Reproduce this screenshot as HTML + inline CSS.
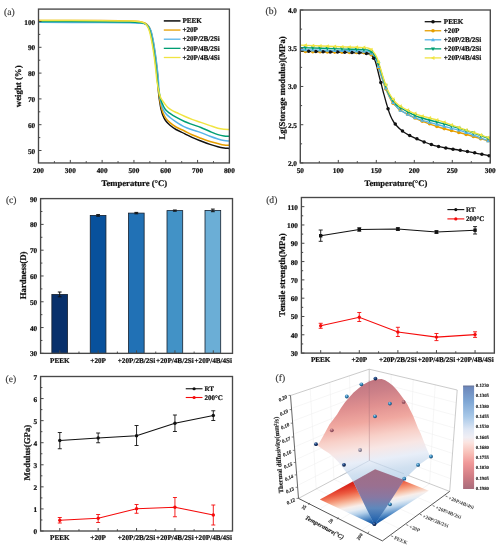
<!DOCTYPE html><html><head><meta charset="utf-8"><style>html,body{margin:0;padding:0;background:#fff;}svg{display:block;text-rendering:geometricPrecision;filter:blur(0.3px);}</style></head><body>
<svg width="501" height="550" viewBox="0 0 501 550" font-family='"Liberation Serif", serif'>
<rect width="501" height="550" fill="#fff"/>
<text x="9.3" y="12.1" font-size="9.6" text-anchor="middle" font-weight="normal" fill="#333" dominant-baseline="central" stroke="#333" stroke-width="0.15">(a)</text>
<g fill="none" stroke-linejoin="round" stroke-width="1.5">
<path d="M38.50,21.50 C48.75,21.53 84.75,21.62 100.00,21.70 C115.25,21.78 123.33,21.85 130.00,22.00 C136.68,22.15 137.54,22.32 140.05,22.60 C142.56,22.88 143.67,23.01 145.07,23.65 C146.47,24.30 147.53,25.22 148.45,26.49 C149.38,27.76 149.96,29.30 150.60,31.30 C151.24,33.30 151.73,35.72 152.30,38.50 C152.87,41.28 153.45,44.58 154.00,48.00 C154.55,51.42 155.12,55.33 155.60,59.00 C156.08,62.67 156.52,66.50 156.90,70.00 C157.28,73.50 157.62,76.17 157.90,80.00 C158.18,83.83 158.27,89.17 158.60,93.00 C158.93,96.83 159.50,100.33 159.90,103.00 C160.30,105.67 160.53,107.00 161.00,109.00 C161.47,111.00 161.92,113.03 162.70,115.00 C163.48,116.97 164.48,119.10 165.70,120.80 C166.92,122.50 168.28,123.75 170.00,125.20 C171.72,126.65 173.58,128.10 176.00,129.50 C178.42,130.90 181.83,132.28 184.50,133.60 C187.17,134.92 189.27,136.17 192.00,137.40 C194.73,138.63 197.90,139.83 200.90,141.00 C203.90,142.17 207.17,143.43 210.00,144.40 C212.83,145.37 215.57,146.20 217.90,146.80 C220.23,147.40 222.15,147.73 224.00,148.00 C225.85,148.27 228.17,148.33 229.00,148.40" stroke="#111111"/>
<path d="M38.50,20.40 C48.75,20.43 84.75,20.52 100.00,20.60 C115.25,20.68 123.32,20.72 130.00,20.90 C136.68,21.08 137.56,21.30 140.10,21.68 C142.64,22.06 143.81,22.41 145.25,23.19 C146.68,23.96 147.77,24.97 148.71,26.32 C149.65,27.68 150.25,29.27 150.90,31.30 C151.55,33.33 152.03,35.72 152.60,38.50 C153.17,41.28 153.75,44.58 154.30,48.00 C154.85,51.42 155.42,55.33 155.90,59.00 C156.38,62.67 156.82,66.50 157.20,70.00 C157.58,73.50 157.98,76.50 158.20,80.00 C158.42,83.50 158.20,87.50 158.50,91.00 C158.80,94.50 159.52,98.25 160.00,101.00 C160.48,103.75 160.87,105.47 161.40,107.50 C161.93,109.53 162.43,111.38 163.20,113.20 C163.97,115.02 164.87,116.83 166.00,118.40 C167.13,119.97 168.33,121.17 170.00,122.60 C171.67,124.03 173.58,125.60 176.00,127.00 C178.42,128.40 181.83,129.70 184.50,131.00 C187.17,132.30 189.27,133.58 192.00,134.80 C194.73,136.02 197.90,137.18 200.90,138.30 C203.90,139.42 207.17,140.62 210.00,141.50 C212.83,142.38 215.57,143.02 217.90,143.60 C220.23,144.18 222.15,144.72 224.00,145.00 C225.85,145.28 228.17,145.25 229.00,145.30" stroke="#e69f00"/>
<path d="M38.50,22.30 C48.75,22.33 84.75,22.42 100.00,22.50 C115.25,22.58 123.31,22.67 130.00,22.80 C136.69,22.93 137.57,23.07 140.13,23.27 C142.69,23.47 143.90,23.44 145.36,23.99 C146.82,24.55 147.92,25.39 148.88,26.61 C149.84,27.83 150.45,29.32 151.10,31.30 C151.75,33.28 152.23,35.72 152.80,38.50 C153.37,41.28 153.95,44.58 154.50,48.00 C155.05,51.42 155.62,55.33 156.10,59.00 C156.58,62.67 157.02,66.50 157.40,70.00 C157.78,73.50 158.15,76.83 158.40,80.00 C158.65,83.17 158.57,85.83 158.90,89.00 C159.23,92.17 159.82,95.92 160.40,99.00 C160.98,102.08 161.55,105.13 162.40,107.50 C163.25,109.87 164.23,111.53 165.50,113.20 C166.77,114.87 168.25,116.07 170.00,117.50 C171.75,118.93 173.58,120.23 176.00,121.80 C178.42,123.37 181.83,125.57 184.50,126.90 C187.17,128.23 189.27,128.85 192.00,129.80 C194.73,130.75 197.90,131.52 200.90,132.60 C203.90,133.68 207.17,135.23 210.00,136.30 C212.83,137.37 215.57,138.28 217.90,139.00 C220.23,139.72 222.15,140.25 224.00,140.60 C225.85,140.95 228.17,141.02 229.00,141.10" stroke="#56b4e9"/>
<path d="M38.50,21.50 C48.75,21.53 84.75,21.62 100.00,21.70 C115.25,21.78 123.34,21.85 130.00,22.00 C136.66,22.15 137.50,22.32 139.95,22.60 C142.40,22.88 143.39,23.01 144.73,23.65 C146.06,24.30 147.07,25.22 147.94,26.49 C148.82,27.76 149.37,29.30 150.00,31.30 C150.63,33.30 151.13,35.72 151.70,38.50 C152.27,41.28 152.85,44.58 153.40,48.00 C153.95,51.42 154.52,55.33 155.00,59.00 C155.48,62.67 155.92,66.50 156.30,70.00 C156.68,73.50 156.98,77.17 157.30,80.00 C157.62,82.83 157.78,84.33 158.20,87.00 C158.62,89.67 159.17,93.33 159.80,96.00 C160.43,98.67 161.07,100.75 162.00,103.00 C162.93,105.25 164.07,107.77 165.40,109.50 C166.73,111.23 168.23,112.12 170.00,113.40 C171.77,114.68 173.58,115.85 176.00,117.20 C178.42,118.55 181.83,120.30 184.50,121.50 C187.17,122.70 189.27,123.40 192.00,124.40 C194.73,125.40 197.90,126.32 200.90,127.50 C203.90,128.68 207.17,130.32 210.00,131.50 C212.83,132.68 215.57,133.85 217.90,134.60 C220.23,135.35 222.15,135.72 224.00,136.00 C225.85,136.28 228.17,136.25 229.00,136.30" stroke="#009e73"/>
<path d="M38.50,20.50 C48.75,20.53 84.75,20.62 100.00,20.70 C115.25,20.78 123.36,20.82 130.00,21.00 C136.64,21.18 137.46,21.40 139.87,21.77 C142.27,22.14 143.16,22.47 144.44,23.23 C145.72,23.99 146.68,25.00 147.52,26.34 C148.36,27.68 148.89,29.27 149.50,31.30 C150.11,33.33 150.63,35.72 151.20,38.50 C151.77,41.28 152.35,44.58 152.90,48.00 C153.45,51.42 154.02,55.33 154.50,59.00 C154.98,62.67 155.42,66.50 155.80,70.00 C156.18,73.50 156.50,77.50 156.80,80.00 C157.10,82.50 157.22,82.92 157.60,85.00 C157.98,87.08 158.57,90.33 159.10,92.50 C159.63,94.67 160.28,96.72 160.80,98.00 C161.32,99.28 161.58,99.28 162.20,100.20 C162.82,101.12 163.60,102.33 164.50,103.50 C165.40,104.67 166.35,106.05 167.60,107.20 C168.85,108.35 170.43,109.47 172.00,110.40 C173.57,111.33 174.92,111.82 177.00,112.80 C179.08,113.78 182.00,115.20 184.50,116.30 C187.00,117.40 189.27,118.38 192.00,119.40 C194.73,120.42 197.90,121.37 200.90,122.40 C203.90,123.43 207.17,124.63 210.00,125.60 C212.83,126.57 215.57,127.60 217.90,128.20 C220.23,128.80 222.15,129.00 224.00,129.20 C225.85,129.40 228.17,129.37 229.00,129.40" stroke="#f0e442"/>
</g>
<rect x="38.5" y="9.1" width="190.9" height="153.85" fill="none" stroke="#484848" stroke-width="1.35"/>
<line x1="38.5" y1="150.5" x2="41.5" y2="150.5" stroke="#484848" stroke-width="1"/>
<text x="35.2" y="151.0" font-size="7.3" text-anchor="end" font-weight="bold" fill="#111" dominant-baseline="central" stroke="#111" stroke-width="0.22">50</text>
<line x1="38.5" y1="124.69999999999999" x2="41.5" y2="124.69999999999999" stroke="#484848" stroke-width="1"/>
<text x="35.2" y="125.2" font-size="7.3" text-anchor="end" font-weight="bold" fill="#111" dominant-baseline="central" stroke="#111" stroke-width="0.22">60</text>
<line x1="38.5" y1="98.89999999999999" x2="41.5" y2="98.89999999999999" stroke="#484848" stroke-width="1"/>
<text x="35.2" y="99.4" font-size="7.3" text-anchor="end" font-weight="bold" fill="#111" dominant-baseline="central" stroke="#111" stroke-width="0.22">70</text>
<line x1="38.5" y1="73.1" x2="41.5" y2="73.1" stroke="#484848" stroke-width="1"/>
<text x="35.2" y="73.6" font-size="7.3" text-anchor="end" font-weight="bold" fill="#111" dominant-baseline="central" stroke="#111" stroke-width="0.22">80</text>
<line x1="38.5" y1="47.3" x2="41.5" y2="47.3" stroke="#484848" stroke-width="1"/>
<text x="35.2" y="47.8" font-size="7.3" text-anchor="end" font-weight="bold" fill="#111" dominant-baseline="central" stroke="#111" stroke-width="0.22">90</text>
<line x1="38.5" y1="21.499999999999993" x2="41.5" y2="21.499999999999993" stroke="#484848" stroke-width="1"/>
<text x="35.2" y="22.0" font-size="7.3" text-anchor="end" font-weight="bold" fill="#111" dominant-baseline="central" stroke="#111" stroke-width="0.22">100</text>
<line x1="38.5" y1="137.6" x2="40.3" y2="137.6" stroke="#484848" stroke-width="1"/>
<line x1="38.5" y1="111.8" x2="40.3" y2="111.8" stroke="#484848" stroke-width="1"/>
<line x1="38.5" y1="86.0" x2="40.3" y2="86.0" stroke="#484848" stroke-width="1"/>
<line x1="38.5" y1="60.199999999999996" x2="40.3" y2="60.199999999999996" stroke="#484848" stroke-width="1"/>
<line x1="38.5" y1="34.39999999999999" x2="40.3" y2="34.39999999999999" stroke="#484848" stroke-width="1"/>
<line x1="38.5" y1="162.95" x2="38.5" y2="159.95" stroke="#484848" stroke-width="1"/>
<text x="38.5" y="170.1" font-size="7.3" text-anchor="middle" font-weight="bold" fill="#111" dominant-baseline="central" stroke="#111" stroke-width="0.22">200</text>
<line x1="70.31666666666666" y1="162.95" x2="70.31666666666666" y2="159.95" stroke="#484848" stroke-width="1"/>
<text x="70.31666666666666" y="170.1" font-size="7.3" text-anchor="middle" font-weight="bold" fill="#111" dominant-baseline="central" stroke="#111" stroke-width="0.22">300</text>
<line x1="102.13333333333333" y1="162.95" x2="102.13333333333333" y2="159.95" stroke="#484848" stroke-width="1"/>
<text x="102.13333333333333" y="170.1" font-size="7.3" text-anchor="middle" font-weight="bold" fill="#111" dominant-baseline="central" stroke="#111" stroke-width="0.22">400</text>
<line x1="133.95" y1="162.95" x2="133.95" y2="159.95" stroke="#484848" stroke-width="1"/>
<text x="133.95" y="170.1" font-size="7.3" text-anchor="middle" font-weight="bold" fill="#111" dominant-baseline="central" stroke="#111" stroke-width="0.22">500</text>
<line x1="165.76666666666665" y1="162.95" x2="165.76666666666665" y2="159.95" stroke="#484848" stroke-width="1"/>
<text x="165.76666666666665" y="170.1" font-size="7.3" text-anchor="middle" font-weight="bold" fill="#111" dominant-baseline="central" stroke="#111" stroke-width="0.22">600</text>
<line x1="197.58333333333334" y1="162.95" x2="197.58333333333334" y2="159.95" stroke="#484848" stroke-width="1"/>
<text x="197.58333333333334" y="170.1" font-size="7.3" text-anchor="middle" font-weight="bold" fill="#111" dominant-baseline="central" stroke="#111" stroke-width="0.22">700</text>
<line x1="229.4" y1="162.95" x2="229.4" y2="159.95" stroke="#484848" stroke-width="1"/>
<text x="229.4" y="170.1" font-size="7.3" text-anchor="middle" font-weight="bold" fill="#111" dominant-baseline="central" stroke="#111" stroke-width="0.22">800</text>
<line x1="54.40833333333333" y1="162.95" x2="54.40833333333333" y2="161.14999999999998" stroke="#484848" stroke-width="1"/>
<line x1="86.225" y1="162.95" x2="86.225" y2="161.14999999999998" stroke="#484848" stroke-width="1"/>
<line x1="118.04166666666667" y1="162.95" x2="118.04166666666667" y2="161.14999999999998" stroke="#484848" stroke-width="1"/>
<line x1="149.85833333333335" y1="162.95" x2="149.85833333333335" y2="161.14999999999998" stroke="#484848" stroke-width="1"/>
<line x1="181.675" y1="162.95" x2="181.675" y2="161.14999999999998" stroke="#484848" stroke-width="1"/>
<line x1="213.49166666666667" y1="162.95" x2="213.49166666666667" y2="161.14999999999998" stroke="#484848" stroke-width="1"/>
<text x="134.3" y="182.8" font-size="8.67" text-anchor="middle" font-weight="bold" fill="#111" dominant-baseline="central" stroke="#111" stroke-width="0.22">Temperature (°C)</text>
<text x="18.4" y="86.3" font-size="8.8" text-anchor="middle" font-weight="bold" fill="#111" dominant-baseline="central" stroke="#111" stroke-width="0.22" transform="rotate(-90 18.4 86.3)">weight (%)</text>
<line x1="163.8" y1="20.9" x2="180.5" y2="20.9" stroke="#333333" stroke-width="1.8"/>
<text x="182.4" y="21.1" font-size="7.15" text-anchor="start" font-weight="bold" fill="#111" dominant-baseline="central" stroke="#111" stroke-width="0.22">PEEK</text>
<line x1="163.8" y1="30.049999999999997" x2="180.5" y2="30.049999999999997" stroke="#e69f00" stroke-width="1.3"/>
<text x="182.4" y="30.25" font-size="7.15" text-anchor="start" font-weight="bold" fill="#111" dominant-baseline="central" stroke="#111" stroke-width="0.22">+20P</text>
<line x1="163.8" y1="39.2" x2="180.5" y2="39.2" stroke="#56b4e9" stroke-width="1.3"/>
<text x="182.4" y="39.4" font-size="7.15" text-anchor="start" font-weight="bold" fill="#111" dominant-baseline="central" stroke="#111" stroke-width="0.22">+20P/2B/2Si</text>
<line x1="163.8" y1="48.35" x2="180.5" y2="48.35" stroke="#009e73" stroke-width="1.3"/>
<text x="182.4" y="48.55" font-size="7.15" text-anchor="start" font-weight="bold" fill="#111" dominant-baseline="central" stroke="#111" stroke-width="0.22">+20P/4B/2Si</text>
<line x1="163.8" y1="57.5" x2="180.5" y2="57.5" stroke="#f0e442" stroke-width="1.3"/>
<text x="182.4" y="57.7" font-size="7.15" text-anchor="start" font-weight="bold" fill="#111" dominant-baseline="central" stroke="#111" stroke-width="0.22">+20P/4B/4Si</text>
<text x="271.2" y="11.9" font-size="9.6" text-anchor="middle" font-weight="normal" fill="#333" dominant-baseline="central" stroke="#333" stroke-width="0.15">(b)</text>
<g fill="none" stroke-linejoin="round">
<path d="M300.30,51.40 C306.92,51.53 329.38,52.00 340.00,52.20 C350.62,52.40 359.17,52.43 364.00,52.60 C368.83,52.77 367.50,52.67 369.00,53.20 C370.50,53.73 371.67,54.17 373.00,55.80 C374.33,57.43 375.67,59.80 377.00,63.00 C378.33,66.20 379.67,71.00 381.00,75.00 C382.33,79.00 383.75,83.67 385.00,87.00 C386.25,90.33 387.25,92.42 388.50,95.00 C389.75,97.58 391.20,100.58 392.50,102.50 C393.80,104.42 395.05,105.25 396.30,106.50 C397.55,107.75 397.72,108.48 400.00,110.00 C402.28,111.52 406.67,113.87 410.00,115.60 C413.33,117.33 415.00,118.42 420.00,120.40 C425.00,122.38 433.33,125.43 440.00,127.50 C446.67,129.57 454.17,131.22 460.00,132.80 C465.83,134.38 470.00,135.57 475.00,137.00 C480.00,138.43 487.50,140.67 490.00,141.40" stroke="#e69f00" stroke-width="1.4"/>
<path d="M300.30,51.00 C306.92,51.20 329.72,51.90 340.00,52.20 C350.28,52.50 357.33,52.57 362.00,52.80 C366.67,53.03 366.42,53.18 368.00,53.60 C369.58,54.02 370.40,54.32 371.50,55.30 C372.60,56.28 373.70,57.55 374.60,59.50 C375.50,61.45 376.17,64.33 376.90,67.00 C377.63,69.67 378.30,72.75 379.00,75.50 C379.70,78.25 380.43,80.92 381.10,83.50 C381.77,86.08 382.42,88.78 383.00,91.00 C383.58,93.22 384.00,94.63 384.60,96.80 C385.20,98.97 385.82,101.35 386.60,104.00 C387.38,106.65 388.40,110.20 389.30,112.70 C390.20,115.20 390.97,117.03 392.00,119.00 C393.03,120.97 393.67,122.40 395.50,124.50 C397.33,126.60 400.57,129.72 403.00,131.60 C405.43,133.48 407.73,134.57 410.10,135.80 C412.47,137.03 414.83,137.97 417.20,139.00 C419.57,140.03 421.93,141.07 424.30,142.00 C426.67,142.93 429.12,143.87 431.40,144.60 C433.68,145.33 435.60,145.83 438.00,146.40 C440.40,146.97 442.15,147.35 445.80,148.00 C449.45,148.65 455.13,149.50 459.90,150.30 C464.67,151.10 469.47,151.88 474.40,152.80 C479.33,153.72 486.98,155.30 489.50,155.80" stroke="#111" stroke-width="1.3"/>
<path d="M300.30,49.70 C306.92,49.85 329.38,50.35 340.00,50.60 C350.62,50.85 359.17,50.97 364.00,51.20 C368.83,51.43 367.50,51.45 369.00,52.00 C370.50,52.55 371.63,52.75 373.00,54.50 C374.37,56.25 375.82,58.98 377.20,62.50 C378.58,66.02 379.90,71.42 381.30,75.60 C382.70,79.78 384.32,84.28 385.60,87.60 C386.88,90.92 387.77,93.02 389.00,95.50 C390.23,97.98 391.75,100.67 393.00,102.50 C394.25,104.33 395.33,105.22 396.50,106.50 C397.67,107.78 397.75,108.70 400.00,110.20 C402.25,111.70 406.67,113.93 410.00,115.50 C413.33,117.07 415.00,117.97 420.00,119.60 C425.00,121.23 433.33,123.50 440.00,125.30 C446.67,127.10 454.17,128.68 460.00,130.40 C465.83,132.12 470.00,133.73 475.00,135.60 C480.00,137.47 487.50,140.60 490.00,141.60" stroke="#56b4e9" stroke-width="1.4"/>
<path d="M300.30,47.60 C306.92,47.82 329.38,48.57 340.00,48.90 C350.62,49.23 359.17,49.35 364.00,49.60 C368.83,49.85 367.53,49.87 369.00,50.40 C370.47,50.93 371.43,51.20 372.80,52.80 C374.17,54.40 375.88,57.05 377.20,60.00 C378.52,62.95 379.48,66.75 380.70,70.50 C381.92,74.25 383.23,78.83 384.50,82.50 C385.77,86.17 386.95,89.58 388.30,92.50 C389.65,95.42 391.32,98.00 392.60,100.00 C393.88,102.00 394.77,103.25 396.00,104.50 C397.23,105.75 397.67,106.08 400.00,107.50 C402.33,108.92 406.67,111.33 410.00,113.00 C413.33,114.67 415.00,115.85 420.00,117.50 C425.00,119.15 433.33,121.05 440.00,122.90 C446.67,124.75 454.17,126.83 460.00,128.60 C465.83,130.37 470.00,131.77 475.00,133.50 C480.00,135.23 487.50,138.08 490.00,139.00" stroke="#009e73" stroke-width="1.4"/>
<path d="M300.30,45.10 C306.92,45.38 329.38,46.38 340.00,46.80 C350.62,47.22 359.17,47.33 364.00,47.60 C368.83,47.87 367.58,47.90 369.00,48.40 C370.42,48.90 371.18,49.08 372.50,50.60 C373.82,52.12 375.62,54.68 376.90,57.50 C378.18,60.32 379.02,63.75 380.20,67.50 C381.38,71.25 382.73,76.17 384.00,80.00 C385.27,83.83 386.43,87.47 387.80,90.50 C389.17,93.53 390.83,96.15 392.20,98.20 C393.57,100.25 394.70,101.50 396.00,102.80 C397.30,104.10 397.67,104.55 400.00,106.00 C402.33,107.45 406.67,109.92 410.00,111.50 C413.33,113.08 415.00,113.95 420.00,115.50 C425.00,117.05 433.33,118.72 440.00,120.80 C446.67,122.88 454.17,125.97 460.00,128.00 C465.83,130.03 470.00,131.28 475.00,133.00 C480.00,134.72 487.50,137.42 490.00,138.30" stroke="#f0e442" stroke-width="1.4"/>
</g>
<circle cx="305.5" cy="51.50478589420655" r="1.8" fill="#e69f00"/>
<circle cx="312.8" cy="51.65188916876574" r="1.8" fill="#e69f00"/>
<circle cx="320.1" cy="51.79899244332494" r="1.8" fill="#e69f00"/>
<circle cx="327.4" cy="51.946095717884134" r="1.8" fill="#e69f00"/>
<circle cx="334.7" cy="52.09319899244333" r="1.8" fill="#e69f00"/>
<circle cx="342.0" cy="52.233333333333334" r="1.8" fill="#e69f00"/>
<circle cx="349.3" cy="52.355000000000004" r="1.8" fill="#e69f00"/>
<circle cx="356.6" cy="52.47666666666667" r="1.8" fill="#e69f00"/>
<circle cx="363.9" cy="52.598333333333336" r="1.8" fill="#e69f00"/>
<circle cx="371.2" cy="54.629999999999995" r="1.8" fill="#e69f00"/>
<circle cx="378.5" cy="67.5" r="1.8" fill="#e69f00"/>
<circle cx="385.8" cy="88.82857142857145" r="1.8" fill="#e69f00"/>
<circle cx="393.1" cy="103.13157894736844" r="1.8" fill="#e69f00"/>
<circle cx="400.4" cy="110.22399999999999" r="1.8" fill="#e69f00"/>
<circle cx="407.7" cy="114.31199999999998" r="1.8" fill="#e69f00"/>
<circle cx="415.0" cy="118.0" r="1.8" fill="#e69f00"/>
<circle cx="422.3" cy="121.21650000000001" r="1.8" fill="#e69f00"/>
<circle cx="429.6" cy="123.808" r="1.8" fill="#e69f00"/>
<circle cx="436.9" cy="126.39949999999999" r="1.8" fill="#e69f00"/>
<circle cx="444.2" cy="128.613" r="1.8" fill="#e69f00"/>
<circle cx="451.5" cy="130.5475" r="1.8" fill="#e69f00"/>
<circle cx="458.79999999999995" cy="132.482" r="1.8" fill="#e69f00"/>
<circle cx="466.1" cy="134.508" r="1.8" fill="#e69f00"/>
<circle cx="473.4" cy="136.552" r="1.8" fill="#e69f00"/>
<circle cx="480.7" cy="138.672" r="1.8" fill="#e69f00"/>
<circle cx="488.0" cy="140.81333333333333" r="1.8" fill="#e69f00"/>
<circle cx="308.62" cy="51.251486146095715" r="1.75" fill="#111"/>
<circle cx="315.84" cy="51.46972292191436" r="1.75" fill="#111"/>
<circle cx="323.06" cy="51.687959697733" r="1.75" fill="#111"/>
<circle cx="330.28" cy="51.90619647355164" r="1.75" fill="#111"/>
<circle cx="337.5" cy="52.12443324937028" r="1.75" fill="#111"/>
<circle cx="344.71999999999997" cy="52.32872727272727" r="1.75" fill="#111"/>
<circle cx="351.94" cy="52.525636363636366" r="1.75" fill="#111"/>
<circle cx="359.15999999999997" cy="52.722545454545454" r="1.75" fill="#111"/>
<circle cx="366.38" cy="53.384" r="1.75" fill="#111"/>
<circle cx="373.59999999999997" cy="58.14516129032251" r="1.75" fill="#111"/>
<circle cx="380.82" cy="82.43333333333324" r="1.75" fill="#111"/>
<circle cx="388.03999999999996" cy="108.63999999999983" r="1.75" fill="#111"/>
<circle cx="395.26" cy="124.12285714285713" r="1.75" fill="#111"/>
<circle cx="402.47999999999996" cy="131.1077333333333" r="1.75" fill="#111"/>
<circle cx="409.7" cy="135.56338028169014" r="1.75" fill="#111"/>
<circle cx="416.91999999999996" cy="138.8738028169014" r="1.75" fill="#111"/>
<circle cx="424.14" cy="141.93239436619717" r="1.75" fill="#111"/>
<circle cx="431.36" cy="144.58535211267608" r="1.75" fill="#111"/>
<circle cx="438.58" cy="146.51897435897436" r="1.75" fill="#111"/>
<circle cx="445.79999999999995" cy="148.0" r="1.75" fill="#111"/>
<circle cx="453.02" cy="149.1777304964539" r="1.75" fill="#111"/>
<circle cx="460.24" cy="150.3586206896552" r="1.75" fill="#111"/>
<circle cx="467.46" cy="151.6034482758621" r="1.75" fill="#111"/>
<circle cx="474.67999999999995" cy="152.85562913907285" r="1.75" fill="#111"/>
<circle cx="481.9" cy="154.29006622516556" r="1.75" fill="#111"/>
<circle cx="489.12" cy="155.7245033112583" r="1.75" fill="#111"/>
<path d="M305.5,47.65788413098237 L307.48,51.25788413098237 L303.52,51.25788413098237Z" fill="#56b4e9"/>
<path d="M312.8,47.823375314861465 L314.78000000000003,51.42337531486146 L310.82,51.42337531486146Z" fill="#56b4e9"/>
<path d="M320.1,47.98886649874056 L322.08000000000004,51.58886649874056 L318.12,51.58886649874056Z" fill="#56b4e9"/>
<path d="M327.4,48.15435768261965 L329.38,51.75435768261965 L325.41999999999996,51.75435768261965Z" fill="#56b4e9"/>
<path d="M334.7,48.319848866498745 L336.68,51.91984886649874 L332.71999999999997,51.91984886649874Z" fill="#56b4e9"/>
<path d="M342.0,48.489999999999995 L343.98,52.089999999999996 L340.02,52.089999999999996Z" fill="#56b4e9"/>
<path d="M349.3,48.6725 L351.28000000000003,52.2725 L347.32,52.2725Z" fill="#56b4e9"/>
<path d="M356.6,48.855000000000004 L358.58000000000004,52.455 L354.62,52.455Z" fill="#56b4e9"/>
<path d="M363.9,49.03750000000001 L365.88,52.6375 L361.91999999999996,52.6375Z" fill="#56b4e9"/>
<path d="M371.2,51.21499999999999 L373.18,54.81499999999999 L369.21999999999997,54.81499999999999Z" fill="#56b4e9"/>
<path d="M378.5,64.49365853658539 L380.48,68.09365853658538 L376.52,68.09365853658538Z" fill="#56b4e9"/>
<path d="M385.8,85.90470588235291 L387.78000000000003,89.50470588235291 L383.82,89.50470588235291Z" fill="#56b4e9"/>
<path d="M393.1,100.45428571428575 L395.08000000000004,104.05428571428574 L391.12,104.05428571428574Z" fill="#56b4e9"/>
<path d="M400.4,108.252 L402.38,111.85199999999999 L398.41999999999996,111.85199999999999Z" fill="#56b4e9"/>
<path d="M407.7,112.121 L409.68,115.72099999999999 L405.71999999999997,115.72099999999999Z" fill="#56b4e9"/>
<path d="M415.0,115.39 L416.98,118.99 L413.02,118.99Z" fill="#56b4e9"/>
<path d="M422.3,118.0955 L424.28000000000003,121.6955 L420.32,121.6955Z" fill="#56b4e9"/>
<path d="M429.6,120.176 L431.58000000000004,123.776 L427.62,123.776Z" fill="#56b4e9"/>
<path d="M436.9,122.25649999999999 L438.88,125.85649999999998 L434.91999999999996,125.85649999999998Z" fill="#56b4e9"/>
<path d="M444.2,124.211 L446.18,127.81099999999999 L442.21999999999997,127.81099999999999Z" fill="#56b4e9"/>
<path d="M451.5,126.07250000000002 L453.48,129.6725 L449.52,129.6725Z" fill="#56b4e9"/>
<path d="M458.79999999999995,127.934 L460.78,131.534 L456.81999999999994,131.534Z" fill="#56b4e9"/>
<path d="M466.1,130.35466666666667 L468.08000000000004,133.95466666666667 L464.12,133.95466666666667Z" fill="#56b4e9"/>
<path d="M473.4,132.88533333333334 L475.38,136.48533333333333 L471.41999999999996,136.48533333333333Z" fill="#56b4e9"/>
<path d="M480.7,135.72 L482.68,139.32 L478.71999999999997,139.32Z" fill="#56b4e9"/>
<path d="M488.0,138.64 L489.98,142.23999999999998 L486.02,142.23999999999998Z" fill="#56b4e9"/>
<path d="M305.5,49.93027707808564 L307.48,46.33027707808564 L303.52,46.33027707808564Z" fill="#009e73"/>
<path d="M312.8,50.16931989924433 L314.78000000000003,46.569319899244334 L310.82,46.569319899244334Z" fill="#009e73"/>
<path d="M320.1,50.40836272040302 L322.08000000000004,46.808362720403025 L318.12,46.808362720403025Z" fill="#009e73"/>
<path d="M327.4,50.64740554156171 L329.38,47.047405541561716 L325.41999999999996,47.047405541561716Z" fill="#009e73"/>
<path d="M334.7,50.8864483627204 L336.68,47.28644836272041 L332.71999999999997,47.28644836272041Z" fill="#009e73"/>
<path d="M342.0,51.118333333333325 L343.98,47.51833333333333 L340.02,47.51833333333333Z" fill="#009e73"/>
<path d="M349.3,51.33125 L351.28000000000003,47.73125 L347.32,47.73125Z" fill="#009e73"/>
<path d="M356.6,51.54416666666667 L358.58000000000004,47.94416666666667 L354.62,47.94416666666667Z" fill="#009e73"/>
<path d="M363.9,51.75708333333334 L365.88,48.15708333333334 L361.91999999999996,48.15708333333334Z" fill="#009e73"/>
<path d="M371.2,53.94947368421052 L373.18,50.349473684210516 L369.21999999999997,50.349473684210516Z" fill="#009e73"/>
<path d="M378.5,66.06000000000003 L380.48,62.460000000000036 L376.52,62.460000000000036Z" fill="#009e73"/>
<path d="M385.8,88.08105263157897 L387.78000000000003,84.48105263157898 L383.82,84.48105263157898Z" fill="#009e73"/>
<path d="M393.1,102.82176470588236 L395.08000000000004,99.22176470588236 L391.12,99.22176470588236Z" fill="#009e73"/>
<path d="M400.4,109.87999999999998 L402.38,106.27999999999999 L398.41999999999996,106.27999999999999Z" fill="#009e73"/>
<path d="M407.7,113.895 L409.68,110.295 L405.71999999999997,110.295Z" fill="#009e73"/>
<path d="M415.0,117.41 L416.98,113.81 L413.02,113.81Z" fill="#009e73"/>
<path d="M422.3,120.281 L424.28000000000003,116.68100000000001 L420.32,116.68100000000001Z" fill="#009e73"/>
<path d="M429.6,122.25200000000001 L431.58000000000004,118.65200000000002 L427.62,118.65200000000002Z" fill="#009e73"/>
<path d="M436.9,124.223 L438.88,120.623 L434.91999999999996,120.623Z" fill="#009e73"/>
<path d="M444.2,126.25699999999999 L446.18,122.657 L442.21999999999997,122.657Z" fill="#009e73"/>
<path d="M451.5,128.3375 L453.48,124.7375 L449.52,124.7375Z" fill="#009e73"/>
<path d="M458.79999999999995,130.41799999999998 L460.78,126.81799999999998 L456.81999999999994,126.81799999999998Z" fill="#009e73"/>
<path d="M466.1,132.75266666666667 L468.08000000000004,129.15266666666668 L464.12,129.15266666666668Z" fill="#009e73"/>
<path d="M473.4,135.13733333333332 L475.38,131.53733333333332 L471.41999999999996,131.53733333333332Z" fill="#009e73"/>
<path d="M480.7,137.75 L482.68,134.15 L478.71999999999997,134.15Z" fill="#009e73"/>
<path d="M488.0,140.42666666666668 L489.98,136.82666666666668 L486.02,136.82666666666668Z" fill="#009e73"/>
<path d="M303.34,45.32267002518892 L306.94,43.34267002518892 L306.94,47.30267002518892Z" fill="#f0e442"/>
<path d="M310.64,45.6352644836272 L314.24,43.65526448362721 L314.24,47.6152644836272Z" fill="#f0e442"/>
<path d="M317.94,45.947858942065494 L321.54,43.9678589420655 L321.54,47.92785894206549Z" fill="#f0e442"/>
<path d="M325.23999999999995,46.26045340050378 L328.84,44.28045340050378 L328.84,48.240453400503775Z" fill="#f0e442"/>
<path d="M332.53999999999996,46.57304785894206 L336.14,44.593047858942064 L336.14,48.55304785894206Z" fill="#f0e442"/>
<path d="M339.84,46.86666666666667 L343.44,44.88666666666667 L343.44,48.846666666666664Z" fill="#f0e442"/>
<path d="M347.14,47.11 L350.74,45.13 L350.74,49.089999999999996Z" fill="#f0e442"/>
<path d="M354.44,47.35333333333333 L358.04,45.373333333333335 L358.04,49.33333333333333Z" fill="#f0e442"/>
<path d="M361.73999999999995,47.596666666666664 L365.34,45.61666666666667 L365.34,49.57666666666666Z" fill="#f0e442"/>
<path d="M369.03999999999996,49.78285714285714 L372.64,47.80285714285714 L372.64,51.762857142857136Z" fill="#f0e442"/>
<path d="M376.34,62.3484848484849 L379.94,60.368484848484904 L379.94,64.3284848484849Z" fill="#f0e442"/>
<path d="M383.64,84.97368421052633 L387.24,82.99368421052633 L387.24,86.95368421052633Z" fill="#f0e442"/>
<path d="M390.94,99.28947368421056 L394.54,97.30947368421056 L394.54,101.26947368421057Z" fill="#f0e442"/>
<path d="M398.23999999999995,106.21999999999998 L401.84,104.23999999999998 L401.84,108.19999999999999Z" fill="#f0e442"/>
<path d="M405.53999999999996,110.235 L409.14,108.255 L409.14,112.215Z" fill="#f0e442"/>
<path d="M412.84,113.5 L416.44,111.52 L416.44,115.48Z" fill="#f0e442"/>
<path d="M420.14,116.1095 L423.74,114.1295 L423.74,118.0895Z" fill="#f0e442"/>
<path d="M427.44,118.04400000000001 L431.04,116.06400000000001 L431.04,120.02400000000002Z" fill="#f0e442"/>
<path d="M434.73999999999995,119.9785 L438.34,117.99849999999999 L438.34,121.9585Z" fill="#f0e442"/>
<path d="M442.03999999999996,122.312 L445.64,120.332 L445.64,124.292Z" fill="#f0e442"/>
<path d="M449.34,124.94 L452.94,122.96 L452.94,126.92Z" fill="#f0e442"/>
<path d="M456.63999999999993,127.56799999999998 L460.23999999999995,125.58799999999998 L460.23999999999995,129.54799999999997Z" fill="#f0e442"/>
<path d="M463.94,130.03333333333333 L467.54,128.05333333333334 L467.54,132.01333333333332Z" fill="#f0e442"/>
<path d="M471.23999999999995,132.46666666666667 L474.84,130.48666666666668 L474.84,134.44666666666666Z" fill="#f0e442"/>
<path d="M478.53999999999996,135.014 L482.14,133.03400000000002 L482.14,136.994Z" fill="#f0e442"/>
<path d="M485.84,137.59333333333333 L489.44,135.61333333333334 L489.44,139.57333333333332Z" fill="#f0e442"/>
<rect x="300.3" y="10.0" width="190.0" height="152.95" fill="none" stroke="#484848" stroke-width="1.35"/>
<line x1="300.3" y1="162.95" x2="303.3" y2="162.95" stroke="#484848" stroke-width="1"/>
<text x="297" y="163.45" font-size="7.3" text-anchor="end" font-weight="bold" fill="#111" dominant-baseline="central" stroke="#111" stroke-width="0.22">2.0</text>
<line x1="300.3" y1="124.71249999999999" x2="303.3" y2="124.71249999999999" stroke="#484848" stroke-width="1"/>
<text x="297" y="125.21" font-size="7.3" text-anchor="end" font-weight="bold" fill="#111" dominant-baseline="central" stroke="#111" stroke-width="0.22">2.5</text>
<line x1="300.3" y1="86.475" x2="303.3" y2="86.475" stroke="#484848" stroke-width="1"/>
<text x="297" y="86.97" font-size="7.3" text-anchor="end" font-weight="bold" fill="#111" dominant-baseline="central" stroke="#111" stroke-width="0.22">3.0</text>
<line x1="300.3" y1="48.2375" x2="303.3" y2="48.2375" stroke="#484848" stroke-width="1"/>
<text x="297" y="48.74" font-size="7.3" text-anchor="end" font-weight="bold" fill="#111" dominant-baseline="central" stroke="#111" stroke-width="0.22">3.5</text>
<line x1="300.3" y1="10.0" x2="303.3" y2="10.0" stroke="#484848" stroke-width="1"/>
<text x="297" y="10.5" font-size="7.3" text-anchor="end" font-weight="bold" fill="#111" dominant-baseline="central" stroke="#111" stroke-width="0.22">4.0</text>
<line x1="300.3" y1="143.83124999999998" x2="302.1" y2="143.83124999999998" stroke="#484848" stroke-width="1"/>
<line x1="300.3" y1="105.59375" x2="302.1" y2="105.59375" stroke="#484848" stroke-width="1"/>
<line x1="300.3" y1="67.35624999999999" x2="302.1" y2="67.35624999999999" stroke="#484848" stroke-width="1"/>
<line x1="300.3" y1="29.118750000000006" x2="302.1" y2="29.118750000000006" stroke="#484848" stroke-width="1"/>
<line x1="300.3" y1="162.95" x2="300.3" y2="159.95" stroke="#484848" stroke-width="1"/>
<text x="300.3" y="170.1" font-size="7.3" text-anchor="middle" font-weight="bold" fill="#111" dominant-baseline="central" stroke="#111" stroke-width="0.22">50</text>
<line x1="338.3" y1="162.95" x2="338.3" y2="159.95" stroke="#484848" stroke-width="1"/>
<text x="338.3" y="170.1" font-size="7.3" text-anchor="middle" font-weight="bold" fill="#111" dominant-baseline="central" stroke="#111" stroke-width="0.22">100</text>
<line x1="376.3" y1="162.95" x2="376.3" y2="159.95" stroke="#484848" stroke-width="1"/>
<text x="376.3" y="170.1" font-size="7.3" text-anchor="middle" font-weight="bold" fill="#111" dominant-baseline="central" stroke="#111" stroke-width="0.22">150</text>
<line x1="414.3" y1="162.95" x2="414.3" y2="159.95" stroke="#484848" stroke-width="1"/>
<text x="414.3" y="170.1" font-size="7.3" text-anchor="middle" font-weight="bold" fill="#111" dominant-baseline="central" stroke="#111" stroke-width="0.22">200</text>
<line x1="452.3" y1="162.95" x2="452.3" y2="159.95" stroke="#484848" stroke-width="1"/>
<text x="452.3" y="170.1" font-size="7.3" text-anchor="middle" font-weight="bold" fill="#111" dominant-baseline="central" stroke="#111" stroke-width="0.22">250</text>
<line x1="490.3" y1="162.95" x2="490.3" y2="159.95" stroke="#484848" stroke-width="1"/>
<text x="490.3" y="170.1" font-size="7.3" text-anchor="middle" font-weight="bold" fill="#111" dominant-baseline="central" stroke="#111" stroke-width="0.22">300</text>
<line x1="319.3" y1="162.95" x2="319.3" y2="161.14999999999998" stroke="#484848" stroke-width="1"/>
<line x1="357.3" y1="162.95" x2="357.3" y2="161.14999999999998" stroke="#484848" stroke-width="1"/>
<line x1="395.3" y1="162.95" x2="395.3" y2="161.14999999999998" stroke="#484848" stroke-width="1"/>
<line x1="433.3" y1="162.95" x2="433.3" y2="161.14999999999998" stroke="#484848" stroke-width="1"/>
<line x1="471.3" y1="162.95" x2="471.3" y2="161.14999999999998" stroke="#484848" stroke-width="1"/>
<text x="395.9" y="183.0" font-size="8.55" text-anchor="middle" font-weight="bold" fill="#111" dominant-baseline="central" stroke="#111" stroke-width="0.22">Temperature(°C)</text>
<text x="281.8" y="87.9" font-size="8.8" text-anchor="middle" font-weight="bold" fill="#111" dominant-baseline="central" stroke="#111" stroke-width="0.22" transform="rotate(-90 281.8 87.9)">Lg(Storage modulus)(MPa)</text>
<line x1="424.7" y1="21.7" x2="441.2" y2="21.7" stroke="#111" stroke-width="1.3"/>
<circle cx="433" cy="21.7" r="1.8" fill="#111"/>
<text x="443.8" y="21.9" font-size="7.15" text-anchor="start" font-weight="bold" fill="#111" dominant-baseline="central" stroke="#111" stroke-width="0.22">PEEK</text>
<line x1="424.7" y1="30.75" x2="441.2" y2="30.75" stroke="#e69f00" stroke-width="1.3"/>
<circle cx="433" cy="30.75" r="1.8" fill="#e69f00"/>
<text x="443.8" y="30.95" font-size="7.15" text-anchor="start" font-weight="bold" fill="#111" dominant-baseline="central" stroke="#111" stroke-width="0.22">+20P</text>
<line x1="424.7" y1="39.8" x2="441.2" y2="39.8" stroke="#56b4e9" stroke-width="1.3"/>
<path d="M433,37.64 L434.98,41.239999999999995 L431.02,41.239999999999995Z" fill="#56b4e9"/>
<text x="443.8" y="40.0" font-size="7.15" text-anchor="start" font-weight="bold" fill="#111" dominant-baseline="central" stroke="#111" stroke-width="0.22">+20P/2B/2Si</text>
<line x1="424.7" y1="48.85" x2="441.2" y2="48.85" stroke="#009e73" stroke-width="1.3"/>
<path d="M433,51.010000000000005 L434.98,47.410000000000004 L431.02,47.410000000000004Z" fill="#009e73"/>
<text x="443.8" y="49.05" font-size="7.15" text-anchor="start" font-weight="bold" fill="#111" dominant-baseline="central" stroke="#111" stroke-width="0.22">+20P/4B/2Si</text>
<line x1="424.7" y1="57.900000000000006" x2="441.2" y2="57.900000000000006" stroke="#f0e442" stroke-width="1.3"/>
<path d="M430.84,57.900000000000006 L434.44,55.92000000000001 L434.44,59.88Z" fill="#f0e442"/>
<text x="443.8" y="58.1" font-size="7.15" text-anchor="start" font-weight="bold" fill="#111" dominant-baseline="central" stroke="#111" stroke-width="0.22">+20P/4B/4Si</text>
<text x="11.25" y="200.9" font-size="9.6" text-anchor="middle" font-weight="normal" fill="#333" dominant-baseline="central" stroke="#333" stroke-width="0.15">(c)</text>
<rect x="51.85" y="294.4" width="15.7" height="58.950000000000045" fill="#08306b" stroke="#16202e" stroke-width="0.8"/>
<rect x="90.25" y="215.4" width="15.7" height="137.95000000000002" fill="#08519c" stroke="#16202e" stroke-width="0.8"/>
<rect x="128.45000000000002" y="213.1" width="15.7" height="140.25000000000003" fill="#2171b5" stroke="#16202e" stroke-width="0.8"/>
<rect x="167.0" y="210.6" width="15.7" height="142.75000000000003" fill="#4292c6" stroke="#16202e" stroke-width="0.8"/>
<rect x="205.0" y="210.4" width="15.7" height="142.95000000000002" fill="#6baed6" stroke="#16202e" stroke-width="0.8"/>
<line x1="59.7" y1="292.0" x2="59.7" y2="296.79999999999995" stroke="#111" stroke-width="1"/>
<line x1="57.800000000000004" y1="292.0" x2="61.6" y2="292.0" stroke="#111" stroke-width="1"/>
<line x1="57.800000000000004" y1="296.79999999999995" x2="61.6" y2="296.79999999999995" stroke="#111" stroke-width="1"/>
<line x1="98.1" y1="214.6" x2="98.1" y2="216.20000000000002" stroke="#111" stroke-width="1"/>
<line x1="96.19999999999999" y1="214.6" x2="100.0" y2="214.6" stroke="#111" stroke-width="1"/>
<line x1="96.19999999999999" y1="216.20000000000002" x2="100.0" y2="216.20000000000002" stroke="#111" stroke-width="1"/>
<line x1="136.3" y1="212.4" x2="136.3" y2="213.79999999999998" stroke="#111" stroke-width="1"/>
<line x1="134.4" y1="212.4" x2="138.20000000000002" y2="212.4" stroke="#111" stroke-width="1"/>
<line x1="134.4" y1="213.79999999999998" x2="138.20000000000002" y2="213.79999999999998" stroke="#111" stroke-width="1"/>
<line x1="174.85" y1="210.0" x2="174.85" y2="211.2" stroke="#111" stroke-width="1"/>
<line x1="172.95" y1="210.0" x2="176.75" y2="210.0" stroke="#111" stroke-width="1"/>
<line x1="172.95" y1="211.2" x2="176.75" y2="211.2" stroke="#111" stroke-width="1"/>
<line x1="212.85" y1="209.1" x2="212.85" y2="211.70000000000002" stroke="#111" stroke-width="1"/>
<line x1="210.95" y1="209.1" x2="214.75" y2="209.1" stroke="#111" stroke-width="1"/>
<line x1="210.95" y1="211.70000000000002" x2="214.75" y2="211.70000000000002" stroke="#111" stroke-width="1"/>
<rect x="40.6" y="198.6" width="191.9" height="154.75000000000003" fill="none" stroke="#484848" stroke-width="1.35"/>
<line x1="40.6" y1="353.35" x2="43.6" y2="353.35" stroke="#484848" stroke-width="1"/>
<text x="37.2" y="353.85" font-size="7.3" text-anchor="end" font-weight="bold" fill="#111" dominant-baseline="central" stroke="#111" stroke-width="0.22">30</text>
<line x1="40.6" y1="327.56" x2="43.6" y2="327.56" stroke="#484848" stroke-width="1"/>
<text x="37.2" y="328.06" font-size="7.3" text-anchor="end" font-weight="bold" fill="#111" dominant-baseline="central" stroke="#111" stroke-width="0.22">40</text>
<line x1="40.6" y1="301.77000000000004" x2="43.6" y2="301.77000000000004" stroke="#484848" stroke-width="1"/>
<text x="37.2" y="302.27" font-size="7.3" text-anchor="end" font-weight="bold" fill="#111" dominant-baseline="central" stroke="#111" stroke-width="0.22">50</text>
<line x1="40.6" y1="275.98" x2="43.6" y2="275.98" stroke="#484848" stroke-width="1"/>
<text x="37.2" y="276.48" font-size="7.3" text-anchor="end" font-weight="bold" fill="#111" dominant-baseline="central" stroke="#111" stroke-width="0.22">60</text>
<line x1="40.6" y1="250.19" x2="43.6" y2="250.19" stroke="#484848" stroke-width="1"/>
<text x="37.2" y="250.69" font-size="7.3" text-anchor="end" font-weight="bold" fill="#111" dominant-baseline="central" stroke="#111" stroke-width="0.22">70</text>
<line x1="40.6" y1="224.4" x2="43.6" y2="224.4" stroke="#484848" stroke-width="1"/>
<text x="37.2" y="224.9" font-size="7.3" text-anchor="end" font-weight="bold" fill="#111" dominant-baseline="central" stroke="#111" stroke-width="0.22">80</text>
<line x1="40.6" y1="198.61" x2="43.6" y2="198.61" stroke="#484848" stroke-width="1"/>
<text x="37.2" y="199.11" font-size="7.3" text-anchor="end" font-weight="bold" fill="#111" dominant-baseline="central" stroke="#111" stroke-width="0.22">90</text>
<line x1="40.6" y1="340.45500000000004" x2="42.4" y2="340.45500000000004" stroke="#484848" stroke-width="1"/>
<line x1="40.6" y1="314.665" x2="42.4" y2="314.665" stroke="#484848" stroke-width="1"/>
<line x1="40.6" y1="288.875" x2="42.4" y2="288.875" stroke="#484848" stroke-width="1"/>
<line x1="40.6" y1="263.08500000000004" x2="42.4" y2="263.08500000000004" stroke="#484848" stroke-width="1"/>
<line x1="40.6" y1="237.29500000000002" x2="42.4" y2="237.29500000000002" stroke="#484848" stroke-width="1"/>
<line x1="40.6" y1="211.50500000000002" x2="42.4" y2="211.50500000000002" stroke="#484848" stroke-width="1"/>
<line x1="59.790000000000006" y1="353.35" x2="59.790000000000006" y2="350.35" stroke="#484848" stroke-width="1"/>
<line x1="98.17000000000002" y1="353.35" x2="98.17000000000002" y2="350.35" stroke="#484848" stroke-width="1"/>
<line x1="136.55" y1="353.35" x2="136.55" y2="350.35" stroke="#484848" stroke-width="1"/>
<line x1="174.93" y1="353.35" x2="174.93" y2="350.35" stroke="#484848" stroke-width="1"/>
<line x1="213.31" y1="353.35" x2="213.31" y2="350.35" stroke="#484848" stroke-width="1"/>
<line x1="78.98" y1="353.35" x2="78.98" y2="351.55" stroke="#484848" stroke-width="1"/>
<line x1="117.36000000000001" y1="353.35" x2="117.36000000000001" y2="351.55" stroke="#484848" stroke-width="1"/>
<line x1="155.74" y1="353.35" x2="155.74" y2="351.55" stroke="#484848" stroke-width="1"/>
<line x1="194.12" y1="353.35" x2="194.12" y2="351.55" stroke="#484848" stroke-width="1"/>
<text x="59.790000000000006" y="360.5" font-size="7.2" text-anchor="middle" font-weight="bold" fill="#111" dominant-baseline="central" stroke="#111" stroke-width="0.22">PEEK</text>
<text x="98.17000000000002" y="360.5" font-size="7.2" text-anchor="middle" font-weight="bold" fill="#111" dominant-baseline="central" stroke="#111" stroke-width="0.22">+20P</text>
<text x="136.55" y="360.5" font-size="7.2" text-anchor="middle" font-weight="bold" fill="#111" dominant-baseline="central" stroke="#111" stroke-width="0.22">+20P/2B/2Si</text>
<text x="174.93" y="360.5" font-size="7.2" text-anchor="middle" font-weight="bold" fill="#111" dominant-baseline="central" stroke="#111" stroke-width="0.22">+20P/4B/2Si</text>
<text x="213.31" y="360.5" font-size="7.2" text-anchor="middle" font-weight="bold" fill="#111" dominant-baseline="central" stroke="#111" stroke-width="0.22">+20P/4B/4Si</text>
<text x="23.5" y="275.4" font-size="8.8" text-anchor="middle" font-weight="bold" fill="#111" dominant-baseline="central" stroke="#111" stroke-width="0.22" transform="rotate(-90 23.5 275.4)">Hardness(D)</text>
<text x="271.75" y="200.9" font-size="9.6" text-anchor="middle" font-weight="normal" fill="#333" dominant-baseline="central" stroke="#333" stroke-width="0.15">(d)</text>
<polyline points="320.695,235.75 359.28499999999997,229.5 397.875,229.0 436.46500000000003,232.0 475.05500000000006,230.2" fill="none" stroke="#111" stroke-width="1.1"/>
<line x1="320.695" y1="230" x2="320.695" y2="241.3" stroke="#111" stroke-width="0.9"/>
<line x1="318.695" y1="230" x2="322.695" y2="230" stroke="#111" stroke-width="0.9"/>
<line x1="318.695" y1="241.3" x2="322.695" y2="241.3" stroke="#111" stroke-width="0.9"/>
<line x1="359.28499999999997" y1="227.8" x2="359.28499999999997" y2="231.2" stroke="#111" stroke-width="0.9"/>
<line x1="357.28499999999997" y1="227.8" x2="361.28499999999997" y2="227.8" stroke="#111" stroke-width="0.9"/>
<line x1="357.28499999999997" y1="231.2" x2="361.28499999999997" y2="231.2" stroke="#111" stroke-width="0.9"/>
<line x1="397.875" y1="227.8" x2="397.875" y2="230.4" stroke="#111" stroke-width="0.9"/>
<line x1="395.875" y1="227.8" x2="399.875" y2="227.8" stroke="#111" stroke-width="0.9"/>
<line x1="395.875" y1="230.4" x2="399.875" y2="230.4" stroke="#111" stroke-width="0.9"/>
<line x1="436.46500000000003" y1="230.8" x2="436.46500000000003" y2="233.3" stroke="#111" stroke-width="0.9"/>
<line x1="434.46500000000003" y1="230.8" x2="438.46500000000003" y2="230.8" stroke="#111" stroke-width="0.9"/>
<line x1="434.46500000000003" y1="233.3" x2="438.46500000000003" y2="233.3" stroke="#111" stroke-width="0.9"/>
<line x1="475.05500000000006" y1="226.6" x2="475.05500000000006" y2="234.0" stroke="#111" stroke-width="0.9"/>
<line x1="473.05500000000006" y1="226.6" x2="477.05500000000006" y2="226.6" stroke="#111" stroke-width="0.9"/>
<line x1="473.05500000000006" y1="234.0" x2="477.05500000000006" y2="234.0" stroke="#111" stroke-width="0.9"/>
<rect x="318.995" y="234.05" width="3.4" height="3.4" fill="#111"/>
<rect x="357.585" y="227.8" width="3.4" height="3.4" fill="#111"/>
<rect x="396.175" y="227.3" width="3.4" height="3.4" fill="#111"/>
<rect x="434.76500000000004" y="230.3" width="3.4" height="3.4" fill="#111"/>
<rect x="473.3550000000001" y="228.5" width="3.4" height="3.4" fill="#111"/>
<polyline points="320.695,325.75 359.28499999999997,317.25 397.875,332.0 436.46500000000003,337.1 475.05500000000006,334.6" fill="none" stroke="#f50a0a" stroke-width="1.1"/>
<line x1="320.695" y1="323.3" x2="320.695" y2="328.3" stroke="#f50a0a" stroke-width="0.9"/>
<line x1="318.695" y1="323.3" x2="322.695" y2="323.3" stroke="#f50a0a" stroke-width="0.9"/>
<line x1="318.695" y1="328.3" x2="322.695" y2="328.3" stroke="#f50a0a" stroke-width="0.9"/>
<line x1="359.28499999999997" y1="312.5" x2="359.28499999999997" y2="321.5" stroke="#f50a0a" stroke-width="0.9"/>
<line x1="357.28499999999997" y1="312.5" x2="361.28499999999997" y2="312.5" stroke="#f50a0a" stroke-width="0.9"/>
<line x1="357.28499999999997" y1="321.5" x2="361.28499999999997" y2="321.5" stroke="#f50a0a" stroke-width="0.9"/>
<line x1="397.875" y1="327.3" x2="397.875" y2="336.5" stroke="#f50a0a" stroke-width="0.9"/>
<line x1="395.875" y1="327.3" x2="399.875" y2="327.3" stroke="#f50a0a" stroke-width="0.9"/>
<line x1="395.875" y1="336.5" x2="399.875" y2="336.5" stroke="#f50a0a" stroke-width="0.9"/>
<line x1="436.46500000000003" y1="333.5" x2="436.46500000000003" y2="340.6" stroke="#f50a0a" stroke-width="0.9"/>
<line x1="434.46500000000003" y1="333.5" x2="438.46500000000003" y2="333.5" stroke="#f50a0a" stroke-width="0.9"/>
<line x1="434.46500000000003" y1="340.6" x2="438.46500000000003" y2="340.6" stroke="#f50a0a" stroke-width="0.9"/>
<line x1="475.05500000000006" y1="331.8" x2="475.05500000000006" y2="337.4" stroke="#f50a0a" stroke-width="0.9"/>
<line x1="473.05500000000006" y1="331.8" x2="477.05500000000006" y2="331.8" stroke="#f50a0a" stroke-width="0.9"/>
<line x1="473.05500000000006" y1="337.4" x2="477.05500000000006" y2="337.4" stroke="#f50a0a" stroke-width="0.9"/>
<circle cx="320.695" cy="325.75" r="1.7" fill="#f50a0a"/>
<circle cx="359.28499999999997" cy="317.25" r="1.7" fill="#f50a0a"/>
<circle cx="397.875" cy="332.0" r="1.7" fill="#f50a0a"/>
<circle cx="436.46500000000003" cy="337.1" r="1.7" fill="#f50a0a"/>
<circle cx="475.05500000000006" cy="334.6" r="1.7" fill="#f50a0a"/>
<rect x="301.4" y="197.5" width="192.95000000000005" height="155.60000000000002" fill="none" stroke="#484848" stroke-width="1.35"/>
<line x1="301.4" y1="353.1" x2="304.4" y2="353.1" stroke="#484848" stroke-width="1"/>
<text x="298.0" y="353.6" font-size="7.3" text-anchor="end" font-weight="bold" fill="#111" dominant-baseline="central" stroke="#111" stroke-width="0.22">30</text>
<line x1="301.4" y1="334.79400000000004" x2="304.4" y2="334.79400000000004" stroke="#484848" stroke-width="1"/>
<text x="298.0" y="335.29" font-size="7.3" text-anchor="end" font-weight="bold" fill="#111" dominant-baseline="central" stroke="#111" stroke-width="0.22">40</text>
<line x1="301.4" y1="316.488" x2="304.4" y2="316.488" stroke="#484848" stroke-width="1"/>
<text x="298.0" y="316.99" font-size="7.3" text-anchor="end" font-weight="bold" fill="#111" dominant-baseline="central" stroke="#111" stroke-width="0.22">50</text>
<line x1="301.4" y1="298.182" x2="304.4" y2="298.182" stroke="#484848" stroke-width="1"/>
<text x="298.0" y="298.68" font-size="7.3" text-anchor="end" font-weight="bold" fill="#111" dominant-baseline="central" stroke="#111" stroke-width="0.22">60</text>
<line x1="301.4" y1="279.87600000000003" x2="304.4" y2="279.87600000000003" stroke="#484848" stroke-width="1"/>
<text x="298.0" y="280.38" font-size="7.3" text-anchor="end" font-weight="bold" fill="#111" dominant-baseline="central" stroke="#111" stroke-width="0.22">70</text>
<line x1="301.4" y1="261.57000000000005" x2="304.4" y2="261.57000000000005" stroke="#484848" stroke-width="1"/>
<text x="298.0" y="262.07" font-size="7.3" text-anchor="end" font-weight="bold" fill="#111" dominant-baseline="central" stroke="#111" stroke-width="0.22">80</text>
<line x1="301.4" y1="243.264" x2="304.4" y2="243.264" stroke="#484848" stroke-width="1"/>
<text x="298.0" y="243.76" font-size="7.3" text-anchor="end" font-weight="bold" fill="#111" dominant-baseline="central" stroke="#111" stroke-width="0.22">90</text>
<line x1="301.4" y1="224.95800000000003" x2="304.4" y2="224.95800000000003" stroke="#484848" stroke-width="1"/>
<text x="298.0" y="225.46" font-size="7.3" text-anchor="end" font-weight="bold" fill="#111" dominant-baseline="central" stroke="#111" stroke-width="0.22">100</text>
<line x1="301.4" y1="206.65200000000002" x2="304.4" y2="206.65200000000002" stroke="#484848" stroke-width="1"/>
<text x="298.0" y="207.15" font-size="7.3" text-anchor="end" font-weight="bold" fill="#111" dominant-baseline="central" stroke="#111" stroke-width="0.22">110</text>
<line x1="301.4" y1="343.947" x2="303.2" y2="343.947" stroke="#484848" stroke-width="1"/>
<line x1="301.4" y1="325.641" x2="303.2" y2="325.641" stroke="#484848" stroke-width="1"/>
<line x1="301.4" y1="307.33500000000004" x2="303.2" y2="307.33500000000004" stroke="#484848" stroke-width="1"/>
<line x1="301.4" y1="289.029" x2="303.2" y2="289.029" stroke="#484848" stroke-width="1"/>
<line x1="301.4" y1="270.723" x2="303.2" y2="270.723" stroke="#484848" stroke-width="1"/>
<line x1="301.4" y1="252.41700000000003" x2="303.2" y2="252.41700000000003" stroke="#484848" stroke-width="1"/>
<line x1="301.4" y1="234.11100000000002" x2="303.2" y2="234.11100000000002" stroke="#484848" stroke-width="1"/>
<line x1="301.4" y1="215.80500000000004" x2="303.2" y2="215.80500000000004" stroke="#484848" stroke-width="1"/>
<line x1="320.695" y1="353.1" x2="320.695" y2="350.1" stroke="#484848" stroke-width="1"/>
<line x1="359.28499999999997" y1="353.1" x2="359.28499999999997" y2="350.1" stroke="#484848" stroke-width="1"/>
<line x1="397.875" y1="353.1" x2="397.875" y2="350.1" stroke="#484848" stroke-width="1"/>
<line x1="436.46500000000003" y1="353.1" x2="436.46500000000003" y2="350.1" stroke="#484848" stroke-width="1"/>
<line x1="475.05500000000006" y1="353.1" x2="475.05500000000006" y2="350.1" stroke="#484848" stroke-width="1"/>
<line x1="339.99" y1="353.1" x2="339.99" y2="351.3" stroke="#484848" stroke-width="1"/>
<line x1="378.58" y1="353.1" x2="378.58" y2="351.3" stroke="#484848" stroke-width="1"/>
<line x1="417.17" y1="353.1" x2="417.17" y2="351.3" stroke="#484848" stroke-width="1"/>
<line x1="455.76000000000005" y1="353.1" x2="455.76000000000005" y2="351.3" stroke="#484848" stroke-width="1"/>
<text x="320.695" y="360.3" font-size="7.2" text-anchor="middle" font-weight="bold" fill="#111" dominant-baseline="central" stroke="#111" stroke-width="0.22">PEEK</text>
<text x="359.28499999999997" y="360.3" font-size="7.2" text-anchor="middle" font-weight="bold" fill="#111" dominant-baseline="central" stroke="#111" stroke-width="0.22">+20P</text>
<text x="397.875" y="360.3" font-size="7.2" text-anchor="middle" font-weight="bold" fill="#111" dominant-baseline="central" stroke="#111" stroke-width="0.22">+20P/2B/2Si</text>
<text x="436.46500000000003" y="360.3" font-size="7.2" text-anchor="middle" font-weight="bold" fill="#111" dominant-baseline="central" stroke="#111" stroke-width="0.22">+20P/4B/2Si</text>
<text x="475.05500000000006" y="360.3" font-size="7.2" text-anchor="middle" font-weight="bold" fill="#111" dominant-baseline="central" stroke="#111" stroke-width="0.22">+20P/4B/4Si</text>
<text x="281.7" y="275.0" font-size="8.8" text-anchor="middle" font-weight="bold" fill="#111" dominant-baseline="central" stroke="#111" stroke-width="0.22" transform="rotate(-90 281.7 275.0)">Tensile strength(MPa)</text>
<line x1="447.4" y1="209.6" x2="464.3" y2="209.6" stroke="#111" stroke-width="1.1"/>
<circle cx="455.8" cy="209.6" r="1.6" fill="#111"/>
<text x="466.0" y="210.1" font-size="7.0" text-anchor="start" font-weight="bold" fill="#111" dominant-baseline="central" stroke="#111" stroke-width="0.22">RT</text>
<line x1="447.4" y1="218.9" x2="464.3" y2="218.9" stroke="#f50a0a" stroke-width="1.1"/>
<circle cx="455.8" cy="218.9" r="1.6" fill="#f50a0a"/>
<text x="466.0" y="219.4" font-size="7.0" text-anchor="start" font-weight="bold" fill="#111" dominant-baseline="central" stroke="#111" stroke-width="0.22">200°C</text>
<text x="10.9" y="379.15" font-size="9.6" text-anchor="middle" font-weight="normal" fill="#333" dominant-baseline="central" stroke="#333" stroke-width="0.15">(e)</text>
<polyline points="59.790000000000006,440.5 98.17000000000002,438.0 136.55,435.75 174.93,423.25 213.31,415.5" fill="none" stroke="#111" stroke-width="1.1"/>
<line x1="59.790000000000006" y1="432.5" x2="59.790000000000006" y2="448.75" stroke="#111" stroke-width="0.9"/>
<line x1="57.790000000000006" y1="432.5" x2="61.790000000000006" y2="432.5" stroke="#111" stroke-width="0.9"/>
<line x1="57.790000000000006" y1="448.75" x2="61.790000000000006" y2="448.75" stroke="#111" stroke-width="0.9"/>
<line x1="98.17000000000002" y1="433" x2="98.17000000000002" y2="442.75" stroke="#111" stroke-width="0.9"/>
<line x1="96.17000000000002" y1="433" x2="100.17000000000002" y2="433" stroke="#111" stroke-width="0.9"/>
<line x1="96.17000000000002" y1="442.75" x2="100.17000000000002" y2="442.75" stroke="#111" stroke-width="0.9"/>
<line x1="136.55" y1="425.5" x2="136.55" y2="445.5" stroke="#111" stroke-width="0.9"/>
<line x1="134.55" y1="425.5" x2="138.55" y2="425.5" stroke="#111" stroke-width="0.9"/>
<line x1="134.55" y1="445.5" x2="138.55" y2="445.5" stroke="#111" stroke-width="0.9"/>
<line x1="174.93" y1="415" x2="174.93" y2="431.5" stroke="#111" stroke-width="0.9"/>
<line x1="172.93" y1="415" x2="176.93" y2="415" stroke="#111" stroke-width="0.9"/>
<line x1="172.93" y1="431.5" x2="176.93" y2="431.5" stroke="#111" stroke-width="0.9"/>
<line x1="213.31" y1="410.75" x2="213.31" y2="420.5" stroke="#111" stroke-width="0.9"/>
<line x1="211.31" y1="410.75" x2="215.31" y2="410.75" stroke="#111" stroke-width="0.9"/>
<line x1="211.31" y1="420.5" x2="215.31" y2="420.5" stroke="#111" stroke-width="0.9"/>
<circle cx="59.790000000000006" cy="440.5" r="1.7" fill="#111"/>
<circle cx="98.17000000000002" cy="438.0" r="1.7" fill="#111"/>
<circle cx="136.55" cy="435.75" r="1.7" fill="#111"/>
<circle cx="174.93" cy="423.25" r="1.7" fill="#111"/>
<circle cx="213.31" cy="415.5" r="1.7" fill="#111"/>
<polyline points="59.790000000000006,520.25 98.17000000000002,518.25 136.55,508.75 174.93,507.25 213.31,515.0" fill="none" stroke="#f50a0a" stroke-width="1.1"/>
<line x1="59.790000000000006" y1="517.5" x2="59.790000000000006" y2="523" stroke="#f50a0a" stroke-width="0.9"/>
<line x1="57.790000000000006" y1="517.5" x2="61.790000000000006" y2="517.5" stroke="#f50a0a" stroke-width="0.9"/>
<line x1="57.790000000000006" y1="523" x2="61.790000000000006" y2="523" stroke="#f50a0a" stroke-width="0.9"/>
<line x1="98.17000000000002" y1="514.5" x2="98.17000000000002" y2="522.5" stroke="#f50a0a" stroke-width="0.9"/>
<line x1="96.17000000000002" y1="514.5" x2="100.17000000000002" y2="514.5" stroke="#f50a0a" stroke-width="0.9"/>
<line x1="96.17000000000002" y1="522.5" x2="100.17000000000002" y2="522.5" stroke="#f50a0a" stroke-width="0.9"/>
<line x1="136.55" y1="504.5" x2="136.55" y2="513.25" stroke="#f50a0a" stroke-width="0.9"/>
<line x1="134.55" y1="504.5" x2="138.55" y2="504.5" stroke="#f50a0a" stroke-width="0.9"/>
<line x1="134.55" y1="513.25" x2="138.55" y2="513.25" stroke="#f50a0a" stroke-width="0.9"/>
<line x1="174.93" y1="497.5" x2="174.93" y2="516.75" stroke="#f50a0a" stroke-width="0.9"/>
<line x1="172.93" y1="497.5" x2="176.93" y2="497.5" stroke="#f50a0a" stroke-width="0.9"/>
<line x1="172.93" y1="516.75" x2="176.93" y2="516.75" stroke="#f50a0a" stroke-width="0.9"/>
<line x1="213.31" y1="505" x2="213.31" y2="525" stroke="#f50a0a" stroke-width="0.9"/>
<line x1="211.31" y1="505" x2="215.31" y2="505" stroke="#f50a0a" stroke-width="0.9"/>
<line x1="211.31" y1="525" x2="215.31" y2="525" stroke="#f50a0a" stroke-width="0.9"/>
<circle cx="59.790000000000006" cy="520.25" r="1.7" fill="#f50a0a"/>
<circle cx="98.17000000000002" cy="518.25" r="1.7" fill="#f50a0a"/>
<circle cx="136.55" cy="508.75" r="1.7" fill="#f50a0a"/>
<circle cx="174.93" cy="507.25" r="1.7" fill="#f50a0a"/>
<circle cx="213.31" cy="515.0" r="1.7" fill="#f50a0a"/>
<rect x="40.6" y="376.5" width="191.9" height="154.5" fill="none" stroke="#484848" stroke-width="1.35"/>
<line x1="40.6" y1="531.0" x2="43.6" y2="531.0" stroke="#484848" stroke-width="1"/>
<text x="37.2" y="531.5" font-size="7.3" text-anchor="end" font-weight="bold" fill="#111" dominant-baseline="central" stroke="#111" stroke-width="0.22">0</text>
<line x1="40.6" y1="508.929" x2="43.6" y2="508.929" stroke="#484848" stroke-width="1"/>
<text x="37.2" y="509.43" font-size="7.3" text-anchor="end" font-weight="bold" fill="#111" dominant-baseline="central" stroke="#111" stroke-width="0.22">1</text>
<line x1="40.6" y1="486.858" x2="43.6" y2="486.858" stroke="#484848" stroke-width="1"/>
<text x="37.2" y="487.36" font-size="7.3" text-anchor="end" font-weight="bold" fill="#111" dominant-baseline="central" stroke="#111" stroke-width="0.22">2</text>
<line x1="40.6" y1="464.787" x2="43.6" y2="464.787" stroke="#484848" stroke-width="1"/>
<text x="37.2" y="465.29" font-size="7.3" text-anchor="end" font-weight="bold" fill="#111" dominant-baseline="central" stroke="#111" stroke-width="0.22">3</text>
<line x1="40.6" y1="442.716" x2="43.6" y2="442.716" stroke="#484848" stroke-width="1"/>
<text x="37.2" y="443.22" font-size="7.3" text-anchor="end" font-weight="bold" fill="#111" dominant-baseline="central" stroke="#111" stroke-width="0.22">4</text>
<line x1="40.6" y1="420.645" x2="43.6" y2="420.645" stroke="#484848" stroke-width="1"/>
<text x="37.2" y="421.14" font-size="7.3" text-anchor="end" font-weight="bold" fill="#111" dominant-baseline="central" stroke="#111" stroke-width="0.22">5</text>
<line x1="40.6" y1="398.57399999999996" x2="43.6" y2="398.57399999999996" stroke="#484848" stroke-width="1"/>
<text x="37.2" y="399.07" font-size="7.3" text-anchor="end" font-weight="bold" fill="#111" dominant-baseline="central" stroke="#111" stroke-width="0.22">6</text>
<line x1="40.6" y1="376.503" x2="43.6" y2="376.503" stroke="#484848" stroke-width="1"/>
<text x="37.2" y="377.0" font-size="7.3" text-anchor="end" font-weight="bold" fill="#111" dominant-baseline="central" stroke="#111" stroke-width="0.22">7</text>
<line x1="40.6" y1="519.9645" x2="42.4" y2="519.9645" stroke="#484848" stroke-width="1"/>
<line x1="40.6" y1="497.8935" x2="42.4" y2="497.8935" stroke="#484848" stroke-width="1"/>
<line x1="40.6" y1="475.8225" x2="42.4" y2="475.8225" stroke="#484848" stroke-width="1"/>
<line x1="40.6" y1="453.75149999999996" x2="42.4" y2="453.75149999999996" stroke="#484848" stroke-width="1"/>
<line x1="40.6" y1="431.6805" x2="42.4" y2="431.6805" stroke="#484848" stroke-width="1"/>
<line x1="40.6" y1="409.6095" x2="42.4" y2="409.6095" stroke="#484848" stroke-width="1"/>
<line x1="40.6" y1="387.5385" x2="42.4" y2="387.5385" stroke="#484848" stroke-width="1"/>
<line x1="59.790000000000006" y1="531.0" x2="59.790000000000006" y2="528.0" stroke="#484848" stroke-width="1"/>
<line x1="98.17000000000002" y1="531.0" x2="98.17000000000002" y2="528.0" stroke="#484848" stroke-width="1"/>
<line x1="136.55" y1="531.0" x2="136.55" y2="528.0" stroke="#484848" stroke-width="1"/>
<line x1="174.93" y1="531.0" x2="174.93" y2="528.0" stroke="#484848" stroke-width="1"/>
<line x1="213.31" y1="531.0" x2="213.31" y2="528.0" stroke="#484848" stroke-width="1"/>
<line x1="78.98000000000002" y1="531.0" x2="78.98000000000002" y2="529.2" stroke="#484848" stroke-width="1"/>
<line x1="117.36000000000001" y1="531.0" x2="117.36000000000001" y2="529.2" stroke="#484848" stroke-width="1"/>
<line x1="155.74" y1="531.0" x2="155.74" y2="529.2" stroke="#484848" stroke-width="1"/>
<line x1="194.12" y1="531.0" x2="194.12" y2="529.2" stroke="#484848" stroke-width="1"/>
<text x="59.790000000000006" y="537.5" font-size="7.2" text-anchor="middle" font-weight="bold" fill="#111" dominant-baseline="central" stroke="#111" stroke-width="0.22">PEEK</text>
<text x="98.17000000000002" y="537.5" font-size="7.2" text-anchor="middle" font-weight="bold" fill="#111" dominant-baseline="central" stroke="#111" stroke-width="0.22">+20P</text>
<text x="136.55" y="537.5" font-size="7.2" text-anchor="middle" font-weight="bold" fill="#111" dominant-baseline="central" stroke="#111" stroke-width="0.22">+20P/2B/2Si</text>
<text x="174.93" y="537.5" font-size="7.2" text-anchor="middle" font-weight="bold" fill="#111" dominant-baseline="central" stroke="#111" stroke-width="0.22">+20P/4B/2Si</text>
<text x="213.31" y="537.5" font-size="7.2" text-anchor="middle" font-weight="bold" fill="#111" dominant-baseline="central" stroke="#111" stroke-width="0.22">+20P/4B/4Si</text>
<text x="27.0" y="452.6" font-size="8.8" text-anchor="middle" font-weight="bold" fill="#111" dominant-baseline="central" stroke="#111" stroke-width="0.22" transform="rotate(-90 27.0 452.6)">Modulus(GPa)</text>
<line x1="185.75" y1="388.75" x2="202.5" y2="388.75" stroke="#111" stroke-width="1.1"/>
<circle cx="194.1" cy="388.75" r="1.6" fill="#111"/>
<text x="204.5" y="389.25" font-size="7.0" text-anchor="start" font-weight="bold" fill="#111" dominant-baseline="central" stroke="#111" stroke-width="0.22">RT</text>
<line x1="185.75" y1="397.5" x2="202.5" y2="397.5" stroke="#f50a0a" stroke-width="1.1"/>
<circle cx="194.1" cy="397.5" r="1.6" fill="#f50a0a"/>
<text x="204.5" y="398.0" font-size="7.0" text-anchor="start" font-weight="bold" fill="#111" dominant-baseline="central" stroke="#111" stroke-width="0.22">200°C</text>
<text x="280.4" y="378.65" font-size="9.6" text-anchor="middle" font-weight="normal" fill="#333" dominant-baseline="central" stroke="#333" stroke-width="0.15">(f)</text>
<defs>
<linearGradient id="floorg" gradientUnits="userSpaceOnUse" x1="374.6" y1="525.2" x2="369.85" y2="466.2">
<stop offset="0" stop-color="#0a4c9c"/><stop offset="0.08" stop-color="#1e62ac"/><stop offset="0.16" stop-color="#5a92c8"/>
<stop offset="0.24" stop-color="#a8c8e4"/><stop offset="0.31" stop-color="#eef0f4"/><stop offset="0.38" stop-color="#f8d0bc"/>
<stop offset="0.46" stop-color="#f49878"/><stop offset="0.55" stop-color="#ec5a40"/><stop offset="0.65" stop-color="#dc2a1e"/><stop offset="1" stop-color="#c41616"/>
</linearGradient>
<linearGradient id="surfg" gradientUnits="userSpaceOnUse" x1="355" y1="378" x2="377.5" y2="526.4">
<stop offset="0.0" stop-color="#bc6c78"/>
<stop offset="0.06" stop-color="#c47a84"/>
<stop offset="0.11" stop-color="#cc8088"/>
<stop offset="0.2" stop-color="#e09090"/>
<stop offset="0.3" stop-color="#f0a8a0"/>
<stop offset="0.4" stop-color="#f8d0c8"/>
<stop offset="0.48" stop-color="#f8e6e4"/>
<stop offset="0.56" stop-color="#e8eef8"/>
<stop offset="0.64" stop-color="#d0e0f0"/>
<stop offset="0.75" stop-color="#c0d6ec"/>
<stop offset="1" stop-color="#a8c8e6"/>
</linearGradient>
<linearGradient id="purg" gradientUnits="userSpaceOnUse" x1="375" y1="469" x2="375" y2="525.2">
<stop offset="0" stop-color="#a06e86"/><stop offset="0.3" stop-color="#9a7090"/><stop offset="0.5" stop-color="#8878a2"/>
<stop offset="0.7" stop-color="#5e88bc"/><stop offset="0.88" stop-color="#2e6ab0"/><stop offset="1" stop-color="#1454a0"/>
</linearGradient>
<linearGradient id="cbar" x1="0" y1="0" x2="0" y2="1">
<stop offset="0" stop-color="#6a84b8"/><stop offset="0.15" stop-color="#7ea6d4"/><stop offset="0.3" stop-color="#a8c8e8"/>
<stop offset="0.42" stop-color="#dde6f4"/><stop offset="0.5" stop-color="#f0eef4"/><stop offset="0.55" stop-color="#fbe4e0"/>
<stop offset="0.65" stop-color="#f8c0b8"/><stop offset="0.75" stop-color="#f09898"/><stop offset="0.88" stop-color="#d07c84"/><stop offset="1" stop-color="#a86c7c"/>
</linearGradient>
<radialGradient id="sp_b" cx="0.4" cy="0.35" r="0.7"><stop offset="0" stop-color="#b0e0f4"/><stop offset="0.4" stop-color="#3a8cc0"/><stop offset="1" stop-color="#0e3c64"/></radialGradient>
<radialGradient id="sp_n" cx="0.38" cy="0.32" r="0.7"><stop offset="0" stop-color="#6a8ec0"/><stop offset="0.45" stop-color="#1a3e78"/><stop offset="1" stop-color="#0a1a3c"/></radialGradient>
<radialGradient id="sp_r" cx="0.38" cy="0.32" r="0.7"><stop offset="0" stop-color="#d8a0a8"/><stop offset="0.5" stop-color="#a8606c"/><stop offset="1" stop-color="#784050"/></radialGradient>
<radialGradient id="sp_g" cx="0.38" cy="0.32" r="0.7"><stop offset="0" stop-color="#d0ccd8"/><stop offset="0.5" stop-color="#9a94a8"/><stop offset="1" stop-color="#686478"/></radialGradient>
</defs>
<line x1="310.2" y1="388.9" x2="316.2" y2="488.9" stroke="#efefef" stroke-width="0.55"/>
<line x1="391.2" y1="374.4" x2="389.5" y2="468.2" stroke="#efefef" stroke-width="0.55"/>
<line x1="329.9" y1="382.4" x2="333.9" y2="479.4" stroke="#efefef" stroke-width="0.55"/>
<line x1="413.2" y1="379.6" x2="409.5" y2="475.9" stroke="#efefef" stroke-width="0.55"/>
<line x1="349.5" y1="375.8" x2="351.7" y2="470.0" stroke="#efefef" stroke-width="0.55"/>
<line x1="435.2" y1="384.8" x2="429.6" y2="483.7" stroke="#efefef" stroke-width="0.55"/>
<line x1="291.5" y1="408.4" x2="369.2" y2="380.6" stroke="#efefef" stroke-width="0.55"/>
<line x1="369.2" y1="380.6" x2="456.3" y2="402.7" stroke="#efefef" stroke-width="0.55"/>
<line x1="292.5" y1="421.2" x2="369.2" y2="392.0" stroke="#efefef" stroke-width="0.55"/>
<line x1="369.2" y1="392.0" x2="455.3" y2="415.4" stroke="#efefef" stroke-width="0.55"/>
<line x1="293.5" y1="434.1" x2="369.3" y2="403.4" stroke="#efefef" stroke-width="0.55"/>
<line x1="369.3" y1="403.4" x2="454.4" y2="428.0" stroke="#efefef" stroke-width="0.55"/>
<line x1="294.5" y1="446.9" x2="369.3" y2="414.9" stroke="#efefef" stroke-width="0.55"/>
<line x1="369.3" y1="414.9" x2="453.4" y2="440.7" stroke="#efefef" stroke-width="0.55"/>
<line x1="295.5" y1="459.8" x2="369.3" y2="426.3" stroke="#efefef" stroke-width="0.55"/>
<line x1="369.3" y1="426.3" x2="452.5" y2="453.4" stroke="#efefef" stroke-width="0.55"/>
<line x1="296.5" y1="472.7" x2="369.3" y2="437.7" stroke="#efefef" stroke-width="0.55"/>
<line x1="369.3" y1="437.7" x2="451.6" y2="466.0" stroke="#efefef" stroke-width="0.55"/>
<line x1="297.5" y1="485.5" x2="369.4" y2="449.1" stroke="#efefef" stroke-width="0.55"/>
<line x1="369.4" y1="449.1" x2="450.6" y2="478.7" stroke="#efefef" stroke-width="0.55"/>
<line x1="316.2" y1="488.9" x2="399.2" y2="528.5" stroke="#efefef" stroke-width="0.55"/>
<line x1="389.5" y1="468.2" x2="319.5" y2="509.0" stroke="#efefef" stroke-width="0.55"/>
<line x1="333.9" y1="479.4" x2="416.0" y2="516.1" stroke="#efefef" stroke-width="0.55"/>
<line x1="409.5" y1="475.9" x2="340.4" y2="519.6" stroke="#efefef" stroke-width="0.55"/>
<line x1="351.7" y1="470.0" x2="432.9" y2="503.8" stroke="#efefef" stroke-width="0.55"/>
<line x1="429.6" y1="483.7" x2="361.4" y2="530.3" stroke="#efefef" stroke-width="0.55"/>
<line x1="290.5" y1="395.5" x2="369.2" y2="369.2" stroke="#b4b4b4" stroke-width="0.7"/>
<line x1="369.2" y1="369.2" x2="457.2" y2="390.0" stroke="#b4b4b4" stroke-width="0.7"/>
<line x1="369.2" y1="369.2" x2="369.4" y2="460.5" stroke="#b4b4b4" stroke-width="0.7"/>
<line x1="457.2" y1="390.0" x2="449.7" y2="491.4" stroke="#b4b4b4" stroke-width="0.7"/>
<line x1="298.5" y1="498.4" x2="369.4" y2="460.5" stroke="#b4b4b4" stroke-width="0.7"/>
<line x1="369.4" y1="460.5" x2="449.7" y2="491.4" stroke="#b4b4b4" stroke-width="0.7"/>
<defs><linearGradient id="floorg2" gradientUnits="userSpaceOnUse" x1="374.6" y1="525.2" x2="363.68" y2="471.57"><stop offset="0.0" stop-color="#0a4c9c"/><stop offset="0.08" stop-color="#2466ae"/><stop offset="0.17" stop-color="#6a9ccf"/><stop offset="0.26" stop-color="#b4d0ea"/><stop offset="0.34" stop-color="#e4ecf4"/><stop offset="0.41" stop-color="#f8eeea"/><stop offset="0.49" stop-color="#f8c4ac"/><stop offset="0.58" stop-color="#f49070"/><stop offset="0.68" stop-color="#ec5a40"/><stop offset="0.8" stop-color="#dc2a1e"/><stop offset="1.0" stop-color="#c01414"/></linearGradient></defs>
<path d="M319.8,499.5 L375.1,469.2 L428.8,490.7 L374.6,525.2 Z" fill="url(#floorg2)"/>
<path d="M317.5,444.5 L319.2,443.1 L322.2,437.8 L325.8,431.2 L329.4,424.5 L333.3,419.4 L337.2,414.2 L340.8,408.2 L345,402.2 L349.8,396.8 L353.6,392.4 L357.2,389.4 L360.8,386.4 L364.4,384 L368,381.9 L371.6,380.4 L375.1,379.6 L378,379.2 L381.6,379.1 L385.2,380.3 L388.8,382.4 L392.4,385.2 L396,389.1 L399.6,393.6 L403.1,398.3 L407.2,404 L410.2,410 L413.2,416 L415.6,422 L418,428 L420.7,433.6 L423.7,441.3 L426.8,448.9 L429.5,455 L431,456.5 L419.9,464.2 L417.8,466.4 L404.3,479.2 L374.6,525.2 L353.2,481.5 L348.6,475 L345.1,470.8 L341.6,465.9 L338.1,461.7 L333.9,457.5 L329,453.3 L323.4,449.8 L318.5,446.3 Z" fill="url(#surfg)"/>
<path d="M353.2,481.6 L375.1,469.2 L404.1,480.0 L374.6,525.2 Z" fill="url(#purg)"/>
<line x1="369.2" y1="380.5" x2="369.4" y2="460.5" stroke="#9a6a74" stroke-width="0.6" opacity="0.6"/>
<line x1="340" y1="476.3" x2="369.4" y2="460.5" stroke="#8aa0b8" stroke-width="0.5" opacity="0.5"/>
<line x1="369.4" y1="460.5" x2="404" y2="473.8" stroke="#8aa0b8" stroke-width="0.5" opacity="0.5"/>
<line x1="290.5" y1="395.5" x2="298.5" y2="498.4" stroke="#555" stroke-width="0.9"/>
<line x1="298.5" y1="498.4" x2="382.4" y2="540.9" stroke="#444" stroke-width="0.9"/>
<line x1="382.4" y1="540.9" x2="449.7" y2="491.4" stroke="#444" stroke-width="0.9"/>
<line x1="288.5" y1="395.4" x2="290.5" y2="395.4" stroke="#555" stroke-width="0.7"/>
<text x="287.5" y="398.0" font-size="5" font-weight="bold" font-style="italic" fill="#222" stroke="#222" stroke-width="0.15" text-anchor="end" transform="rotate(-25 287.5 398.0)">0.20</text>
<line x1="289.6" y1="409.6" x2="291.6" y2="409.6" stroke="#555" stroke-width="0.7"/>
<text x="288.6" y="412.2" font-size="5" font-weight="bold" font-style="italic" fill="#222" stroke="#222" stroke-width="0.15" text-anchor="end" transform="rotate(-25 288.6 412.2)">0.19</text>
<line x1="290.7" y1="423.2" x2="292.7" y2="423.2" stroke="#555" stroke-width="0.7"/>
<text x="289.7" y="425.8" font-size="5" font-weight="bold" font-style="italic" fill="#222" stroke="#222" stroke-width="0.15" text-anchor="end" transform="rotate(-25 289.7 425.8)">0.18</text>
<line x1="291.7" y1="437.0" x2="293.7" y2="437.0" stroke="#555" stroke-width="0.7"/>
<text x="290.7" y="439.6" font-size="5" font-weight="bold" font-style="italic" fill="#222" stroke="#222" stroke-width="0.15" text-anchor="end" transform="rotate(-25 290.7 439.6)">0.17</text>
<line x1="292.8" y1="450.4" x2="294.8" y2="450.4" stroke="#555" stroke-width="0.7"/>
<text x="291.8" y="453.0" font-size="5" font-weight="bold" font-style="italic" fill="#222" stroke="#222" stroke-width="0.15" text-anchor="end" transform="rotate(-25 291.8 453.0)">0.16</text>
<line x1="293.7" y1="462.5" x2="295.7" y2="462.5" stroke="#555" stroke-width="0.7"/>
<text x="292.7" y="465.1" font-size="5" font-weight="bold" font-style="italic" fill="#222" stroke="#222" stroke-width="0.15" text-anchor="end" transform="rotate(-25 292.7 465.1)">0.15</text>
<line x1="294.7" y1="474.9" x2="296.7" y2="474.9" stroke="#555" stroke-width="0.7"/>
<text x="293.7" y="477.5" font-size="5" font-weight="bold" font-style="italic" fill="#222" stroke="#222" stroke-width="0.15" text-anchor="end" transform="rotate(-25 293.7 477.5)">0.14</text>
<line x1="295.6" y1="487.3" x2="297.6" y2="487.3" stroke="#555" stroke-width="0.7"/>
<text x="294.6" y="489.9" font-size="5" font-weight="bold" font-style="italic" fill="#222" stroke="#222" stroke-width="0.15" text-anchor="end" transform="rotate(-25 294.6 489.9)">0.13</text>
<line x1="296.5" y1="498.4" x2="298.5" y2="498.4" stroke="#555" stroke-width="0.7"/>
<text x="295.5" y="501.0" font-size="5" font-weight="bold" font-style="italic" fill="#222" stroke="#222" stroke-width="0.15" text-anchor="end" transform="rotate(-25 295.5 501.0)">0.12</text>
<text x="279" y="455" font-size="6.6" font-weight="bold" fill="#222" stroke="#222" stroke-width="0.15" text-anchor="middle" dominant-baseline="central" transform="rotate(-94.2 279 455)">Thermal diffusivity(mm<tspan font-size="4.2" dy="-2.2">2</tspan><tspan dy="2.2">/s)</tspan></text>
<line x1="308.5" y1="504.9" x2="309.7" y2="502.9" stroke="#444" stroke-width="0.7"/>
<text x="304.9" y="508.0" font-size="4.8" font-weight="bold" fill="#222" stroke="#222" stroke-width="0.12" text-anchor="middle" dominant-baseline="central" transform="rotate(-55 304.9 508.0)">25</text>
<line x1="337.2" y1="519.3" x2="338.4" y2="517.3" stroke="#444" stroke-width="0.7"/>
<text x="331.8" y="521.6" font-size="4.8" font-weight="bold" fill="#222" stroke="#222" stroke-width="0.12" text-anchor="middle" dominant-baseline="central" transform="rotate(-55 331.8 521.6)">50</text>
<line x1="367.7" y1="533.6" x2="368.9" y2="531.6" stroke="#444" stroke-width="0.7"/>
<text x="360.6" y="537.2" font-size="4.8" font-weight="bold" fill="#222" stroke="#222" stroke-width="0.12" text-anchor="middle" dominant-baseline="central" transform="rotate(-55 360.6 537.2)">200</text>
<text x="324.4" y="527.8" font-size="6.2" font-weight="bold" font-style="italic" fill="#222" stroke="#222" stroke-width="0.12" text-anchor="middle" dominant-baseline="central" transform="rotate(29 324.4 527.8)">Temperature(°C)</text>
<line x1="391.2" y1="535.9" x2="393.2" y2="536.6999999999999" stroke="#444" stroke-width="0.7"/>
<text x="394.0" y="538.1999999999999" font-size="5.2" font-weight="bold" fill="#3a3a3a" dominant-baseline="central" transform="rotate(22 394.0 538.1999999999999)">PEEK</text>
<line x1="406.3" y1="524.7" x2="408.3" y2="525.5" stroke="#444" stroke-width="0.7"/>
<text x="409.1" y="527.0" font-size="5.2" font-weight="bold" fill="#3a3a3a" dominant-baseline="central" transform="rotate(22 409.1 527.0)">+20P</text>
<line x1="419.9" y1="514.3" x2="421.9" y2="515.0999999999999" stroke="#444" stroke-width="0.7"/>
<text x="422.7" y="516.5999999999999" font-size="5.2" font-weight="bold" fill="#3a3a3a" dominant-baseline="central" transform="rotate(22 422.7 516.5999999999999)">+20P/2B/2Si</text>
<line x1="432.7" y1="505.6" x2="434.7" y2="506.40000000000003" stroke="#444" stroke-width="0.7"/>
<text x="435.5" y="507.90000000000003" font-size="5.2" font-weight="bold" fill="#3a3a3a" dominant-baseline="central" transform="rotate(22 435.5 507.90000000000003)">+20P/4B/2Si</text>
<line x1="445.5" y1="496.0" x2="447.5" y2="496.8" stroke="#444" stroke-width="0.7"/>
<text x="448.3" y="498.3" font-size="5.2" font-weight="bold" fill="#3a3a3a" dominant-baseline="central" transform="rotate(22 448.3 498.3)">+20P/4B/4Si</text>
<circle cx="316.0" cy="444.2" r="1.9" fill="url(#sp_n)"/>
<circle cx="331.8" cy="430.3" r="1.9" fill="url(#sp_r)"/>
<circle cx="346.8" cy="396.5" r="1.9" fill="url(#sp_b)"/>
<circle cx="361.4" cy="384.3" r="1.9" fill="url(#sp_b)"/>
<circle cx="375.4" cy="378.6" r="1.9" fill="url(#sp_n)"/>
<circle cx="389.9" cy="403.6" r="1.9" fill="url(#sp_b)"/>
<circle cx="403.6" cy="401.9" r="1.9" fill="url(#sp_r)"/>
<circle cx="375.0" cy="416.3" r="1.9" fill="url(#sp_b)"/>
<circle cx="360.1" cy="450" r="1.9" fill="url(#sp_g)"/>
<circle cx="344.0" cy="464.8" r="1.9" fill="url(#sp_n)"/>
<circle cx="431.0" cy="456.5" r="1.9" fill="url(#sp_b)"/>
<circle cx="418.1" cy="464.9" r="1.9" fill="url(#sp_b)"/>
<circle cx="404.3" cy="478.7" r="1.9" fill="url(#sp_b)"/>
<circle cx="390.0" cy="504.3" r="1.9" fill="url(#sp_b)"/>
<circle cx="374.4" cy="524.2" r="1.9" fill="url(#sp_n)"/>
<rect x="463.1" y="385.7" width="11" height="103.3" fill="url(#cbar)"/><rect x="463.1" y="385.7" width="11" height="0.8" fill="#6a7290"/>
<text x="475.8" y="386.5" font-size="4.8" font-weight="bold" fill="#222" stroke="#222" stroke-width="0.12" dominant-baseline="central">0.1230</text>
<text x="475.8" y="396.8" font-size="4.8" font-weight="bold" fill="#222" stroke="#222" stroke-width="0.12" dominant-baseline="central">0.1305</text>
<text x="475.8" y="407.1" font-size="4.8" font-weight="bold" fill="#222" stroke="#222" stroke-width="0.12" dominant-baseline="central">0.1380</text>
<text x="475.8" y="417.4" font-size="4.8" font-weight="bold" fill="#222" stroke="#222" stroke-width="0.12" dominant-baseline="central">0.1455</text>
<text x="475.8" y="427.7" font-size="4.8" font-weight="bold" fill="#222" stroke="#222" stroke-width="0.12" dominant-baseline="central">0.1530</text>
<text x="475.8" y="438.0" font-size="4.8" font-weight="bold" fill="#222" stroke="#222" stroke-width="0.12" dominant-baseline="central">0.1605</text>
<text x="475.8" y="448.3" font-size="4.8" font-weight="bold" fill="#222" stroke="#222" stroke-width="0.12" dominant-baseline="central">0.1680</text>
<text x="475.8" y="458.6" font-size="4.8" font-weight="bold" fill="#222" stroke="#222" stroke-width="0.12" dominant-baseline="central">0.1755</text>
<text x="475.8" y="468.9" font-size="4.8" font-weight="bold" fill="#222" stroke="#222" stroke-width="0.12" dominant-baseline="central">0.1830</text>
<text x="475.8" y="479.2" font-size="4.8" font-weight="bold" fill="#222" stroke="#222" stroke-width="0.12" dominant-baseline="central">0.1905</text>
<text x="475.8" y="489.5" font-size="4.8" font-weight="bold" fill="#222" stroke="#222" stroke-width="0.12" dominant-baseline="central">0.1980</text>
</svg></body></html>
